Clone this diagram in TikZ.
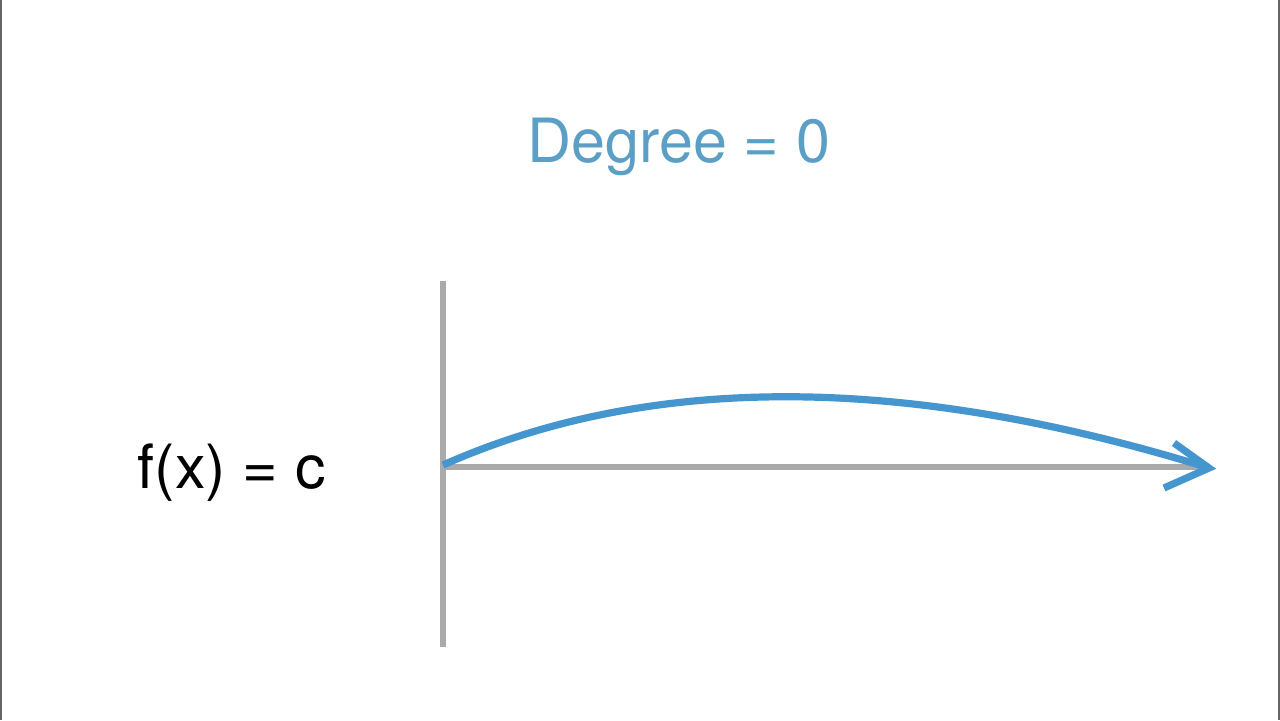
\documentclass[tikz,border=0pt]{standalone}
\usepackage{fontspec}
\setmainfont{TeX Gyre Heros}
\definecolor{titleblue}{HTML}{5C9FC6}
\definecolor{curveblue}{HTML}{4596CF}
\definecolor{axisgray}{HTML}{AAAAAA}
\definecolor{edgegray}{HTML}{666666}
\tikzset{
  axisline/.style={draw=axisgray, line width=3.2pt},
  curveline/.style={draw=curveblue, line width=3.6pt},
  edgeline/.style={draw=edgegray, line width=1pt},
  bigtext/.style={font=\fontsize{30.5}{34}\selectfont, inner sep=0pt, anchor=base}
}
\begin{document}
\begin{tikzpicture}[x=0.5pt,y=-0.5pt]
\useasboundingbox (0,0) rectangle (1280,720);
\fill[white] (0,0) rectangle (1280,720);
% side edges
\draw[edgeline] (1,0) -- (1,720);
\draw[edgeline] (1278.5,0) -- (1278.5,720);
% texts
\node[bigtext, text=titleblue] (title) at (679,162) {Degree = 0};
\node[bigtext, text=black] (func) at (232,488) {f(x) = c};
% axes
\coordinate (ytop) at (443,281);
\coordinate (ybot) at (443,647);
\coordinate (origin) at (443,467);
\coordinate (xend) at (1204,467);
\draw[axisline] (ytop) -- (ybot);
\draw[axisline] (origin) -- (xend);
% curve
\coordinate (cstart) at (443,465);
\coordinate (ctip) at (1209,468);
\coordinate (armtop) at (1174,443);
\coordinate (armbot) at (1164,488);
\draw[curveline] (cstart) .. controls (650,373) and (906,374) .. (ctip);
\draw[curveline, miter limit=10] (armtop) -- (ctip) -- (armbot);
\end{tikzpicture}
\end{document}
